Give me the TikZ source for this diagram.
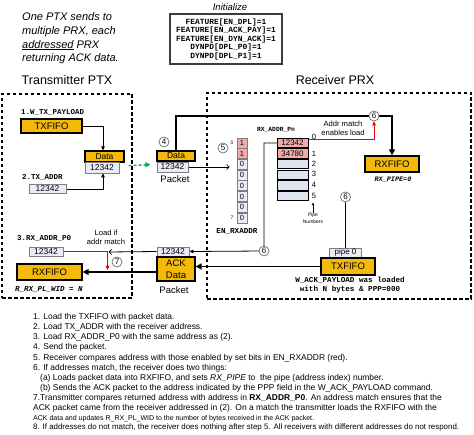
\documentclass[tikz,border=0pt]{standalone}
\usepackage{fontspec}
\setmainfont{Liberation Sans}
\setmonofont{Liberation Mono}
\usetikzlibrary{arrows.meta,calc}
\pgfdeclarelayer{bottom}
\pgfdeclarelayer{background}
\pgfsetlayers{bottom,background,main}
\definecolor{gold}{RGB}{245,185,10}
\definecolor{addrfill}{RGB}{232,236,244}
\definecolor{rowfill}{RGB}{222,228,240}
\definecolor{addrgray}{RGB}{125,125,125}
\definecolor{pinkfill}{RGB}{242,170,170}
\definecolor{circgray}{RGB}{110,110,110}
\definecolor{arrowgreen}{RGB}{0,176,80}
\definecolor{linered}{RGB}{232,0,0}
\definecolor{boxgray}{RGB}{60,60,60}
\newcommand\myfs[2]{\fontsize{#1}{#2}\selectfont}
\tikzset{
  fifo/.style={draw=black, line width=1.3pt, fill=gold, inner sep=0pt, font=\myfs{9.5}{11}},
  databox/.style={draw=black, line width=1.2pt, fill=gold, inner sep=0pt, font=\myfs{8.5}{10}},
  addrbox/.style={draw=addrgray, line width=0.6pt, fill=addrfill, inner sep=0pt, font=\myfs{8.5}{10}},
  encell/.style={draw=addrgray, line width=0.6pt, fill=addrfill, inner sep=0pt, minimum width=10, minimum height=10, font=\myfs{7.5}{8}},
  enset/.style={encell, fill=pinkfill},
  tabrow/.style={draw=black, line width=1pt, fill=rowfill, inner sep=0pt, minimum width=31, minimum height=9.4, font=\myfs{8}{9}},
  tabset/.style={tabrow, fill=pinkfill},
  circ/.style={circle, draw=circgray, fill=white, line width=0.7pt, minimum size=10, inner sep=0pt, font=\myfs{8}{8}},
  code/.style={inner sep=0pt, font=\ttfamily\bfseries\myfs{7.5}{9}},
  lbl/.style={inner sep=0pt, font=\myfs{7.6}{9}},
  listline/.style={inner sep=0pt, anchor=west, font=\myfs{8.45}{10}},
  heavyarrow/.style={line width=1.8pt, -{Triangle[length=6pt,width=6pt]}},
  lightarrow/.style={line width=0.8pt, -{Triangle[length=4pt,width=3.5pt]}},
  openarrow/.style={line width=0.8pt, -{Straight Barb[length=2.5pt,width=5pt]}},
  redarrow/.style={draw=linered, line width=1pt, -{Triangle[length=4pt,width=3.5pt]}},
  dashbox/.style={draw=black, dash pattern=on 3.5pt off 2.5pt, line width=1.3pt},
}
\begin{document}
\begin{tikzpicture}[x=1pt,y=-1pt]
\useasboundingbox (0,0) rectangle (474,435);
\begin{pgfonlayer}{bottom}
\fill[white] (0,0) rectangle (474,435);
\end{pgfonlayer}

% headings
\node[inner sep=0pt, anchor=west, align=left, font=\itshape\myfs{11}{13.6}] (intro) at (22,38.5)
  {One PTX sends to\\multiple PRX, each\\\underline{addressed} PRX\\returning ACK data.};
\node[inner sep=0pt, font=\itshape\myfs{9.5}{10}] (initlbl) at (230,7) {Initialize};
\node[draw=boxgray, line width=1.6pt, minimum width=112, minimum height=50, inner sep=0pt, align=center,
      font=\ttfamily\bfseries\myfs{7.9}{8.5}] (init) at (226,39)
  {FEATURE[EN\_DPL]=1\\FEATURE[EN\_ACK\_PAY]=1\\FEATURE[EN\_DYN\_ACK]=1\\DYNPD[DPL\_P0]=1\\DYNPD[DPL\_P1]=1};
\node[inner sep=0pt, font=\myfs{12.5}{14}] (txtitle) at (67,80) {Transmitter PTX};
\node[inner sep=0pt, font=\myfs{12.5}{14}] (rxtitle) at (335,80) {Receiver PRX};

% dashed regions
\node[dashbox, minimum width=130, minimum height=204, inner sep=0pt] (txregion) at (67,196) {};
\node[dashbox, minimum width=264, minimum height=206, inner sep=0pt] (rxregion) at (339,196) {};

% transmitter
\node[code, anchor=west] (wtxlbl) at (21,112) {1.W\_TX\_PAYLOAD};
\node[fifo, minimum width=61, minimum height=14] (txfifo) at (51.5,126) {TXFIFO};
\node[databox, minimum width=39, minimum height=11] (datatx) at (104.5,156.5) {Data};
\node[addrbox, minimum width=34, minimum height=11] (addrtx) at (102,167.5) {12342};
\node[code, anchor=west] (txaddrlbl) at (22,177) {2.TX\_ADDR};
\node[addrbox, minimum width=37, minimum height=8.5] (txaddr) at (47.5,189) {12342};

\node[code, anchor=west] (p0lbl) at (17,238) {3.RX\_ADDR\_P0};
\node[addrbox, minimum width=34, minimum height=8.5] (p0addr) at (46,252) {12342};
\node[lbl, align=center] (loadlbl) at (106,237.5) {Load if\\addr match};
\coordinate (lm) at (107.5,252);
\node[circ] (c7) at (117,262) {7};
\node[fifo, minimum width=65, minimum height=16] (rxfifol) at (49.5,272) {RXFIFO};
\node[code, font=\ttfamily\bfseries\itshape\myfs{7.5}{9}] (plwid) at (49,289) {R\_RX\_PL\_WID = N};

% packets between
\node[circ] (c4) at (164,142) {4};
\node[databox, minimum width=38, minimum height=10] (datarx) at (176,156) {Data};
\node[addrbox, minimum width=31, minimum height=10] (addrrx) at (172.5,167) {12342};
\node[inner sep=0pt, font=\myfs{9.5}{10}] (pkt1) at (175,179.5) {Packet};

\node[addrbox, minimum width=32, minimum height=9] (ackaddr) at (173,251.5) {12342};
\node[databox, align=center, minimum width=38, minimum height=24, font=\myfs{9.5}{11.5}] (ackdata) at (176,269) {ACK\\Data};
\node[inner sep=0pt, font=\myfs{9.5}{10}] (pkt2) at (174,290.5) {Packet};

% receiver: EN_RXADDR
\node[circ] (c5) at (223,148) {5};
\node[inner sep=0pt, font=\myfs{5}{5}] (en0lbl) at (232,143) {0};
\node[inner sep=0pt, font=\myfs{5}{5}] (en7lbl) at (232,218) {7};
\node[enset] (en0) at (242,143) {1};
\node[enset] (en1) at (242,153.7) {1};
\node[encell] (en2) at (242,164.4) {0};
\node[encell] (en3) at (242,175.1) {0};
\node[encell] (en4) at (242,185.8) {0};
\node[encell] (en5) at (242,196.5) {0};
\node[encell] (en6) at (242,207.2) {0};
\node[encell] (en7) at (242,217.9) {0};
\node[code, font=\ttfamily\bfseries\myfs{7.6}{9}] (enlbl) at (237,231) {EN\_RXADDR};

% receiver: RX_ADDR_Pn
\node[code, font=\ttfamily\bfseries\myfs{6.3}{8}] (rxaddrlbl) at (276,130) {RX\_ADDR\_Pn};
\node[tabset] (row0) at (292.5,143) {12342};
\node[tabset] (row1) at (292.5,153.6) {34780};
\node[tabrow] (row2) at (292.5,164.2) {};
\node[tabrow] (row3) at (292.5,174.8) {};
\node[tabrow] (row4) at (292.5,185.4) {};
\node[tabrow] (row5) at (292.5,196) {};
\node[lbl] (pn0) at (314,136.5) {0};
\node[lbl] (pn1) at (314,153.6) {1};
\node[lbl] (pn2) at (314,163.5) {2};
\node[lbl] (pn3) at (314,174.3) {3};
\node[lbl] (pn4) at (314,185) {4};
\node[lbl] (pn5) at (314,196) {5};
\node[inner sep=0pt, align=center, font=\myfs{5}{6.8}] (pipenums) at (313,218.5) {Pipe\\Numbers};

\node[lbl, align=center] (matchlbl) at (343,128.5) {Addr match\\enables load};
\node[circ] (c6a) at (374,116) {6};
\node[fifo, minimum width=54, minimum height=16] (rxfifor) at (392,164) {RXFIFO};
\node[code, font=\ttfamily\bfseries\itshape\myfs{6.8}{8}] (rxpipe) at (393,179.5) {RX\_PIPE=0};

\node[circ] (c6b) at (345.5,197) {6};
\node[circ] (c6c) at (264,251) {6};
\node[addrbox, minimum width=32, minimum height=9, font=\myfs{8}{9}] (pipe0) at (345.5,252.5) {pipe 0};
\node[fifo, minimum width=54, minimum height=17] (txfifor) at (348,266.5) {TXFIFO};
\node[code, align=center, font=\ttfamily\bfseries\myfs{7.6}{9}] (wacklbl) at (350,285.5)
  {W\_ACK\_PAYLOAD was loaded\\with N bytes \& PPP=000};

% numbered list
\node[listline] (l1) at (33,317) {1. Load the TXFIFO with packet data.};
\node[listline] (l2) at (33,327.3) {2. Load TX\_ADDR with the receiver address.};
\node[listline] (l3) at (33,337.5) {3. Load RX\_ADDR\_P0 with the same address as (2).};
\node[listline] (l4) at (33,347.7) {4. Send the packet.};
\node[listline] (l5) at (33,358) {5. Receiver compares address with those enabled by set bits in EN\_RXADDR (red).};
\node[listline] (l6) at (33,368.2) {6. If addresses match, the receiver does two things:};
\node[listline] (l6a) at (40,378.3) {(a) Loads packet data into RXFIFO, and sets \textit{RX\_PIPE} to\ \ the pipe (address index) number.};
\node[listline] (l6b) at (40,388.4) {(b) Sends the ACK packet to the address indicated by the PPP field in the W\_ACK\_PAYLOAD command.};
\node[listline] (l7) at (33,398.5) {7.Transmitter compares returned address with address in \textbf{RX\_ADDR\_P0}. An address match ensures that the};
\node[listline] (l7b) at (33,408.5) {ACK packet came from the receiver addressed in (2). On a match the transmitter loads the RXFIFO with the};
\node[listline, font=\myfs{7}{9}] (l7c) at (33,418.2) {ACK data and updates R\_RX\_PL\_WID to the number of bytes received in the ACK packet.};
\node[listline, font=\myfs{7.9}{9}] (l8) at (33,427.6) {8. If addresses do not match, the receiver does nothing after step 5. All receivers with different addresses do not respond.};

% connectors
\begin{pgfonlayer}{background}
\draw[lightarrow] (txfifo.east) -| ([xshift=-1.5pt]datatx.north);
\draw[lightarrow] (txaddr.east) -| ([xshift=1pt]addrtx.south);
\draw[arrowgreen, line width=1.4pt, dash pattern=on 3pt off 2pt, -{Triangle[length=5pt,width=5pt]}]
  ($(datatx.south east)+(4,3)$) -- ($(datarx.south west)+(-6,3)$);
\draw[heavyarrow] (datarx.north) |- (c6a) -| (rxfifor.north);
\draw[redarrow] ([yshift=3pt]row0.east) -| (c6a.south);
\draw[openarrow] (addrrx.east) -- ([xshift=-7pt]addrrx.east -| en0.west);
\draw[lightarrow] (row0.west) -| (c6c.center) -- (ackaddr.east);
\draw[line width=0.8pt] (c6b) -- (pipe0.north);
\draw[heavyarrow] (txfifor.west) -- (txfifor.west -| ackdata.east);
\draw[heavyarrow] (ackdata.west |- rxfifol.east) -- (rxfifol.east);
\draw[openarrow] (ackaddr.west) -- ([xshift=1pt]lm);
\draw[redarrow] (p0addr.east) -- (lm) -- ([yshift=2pt]lm |- rxfifol.east);
\draw[line width=0.5pt, -{Triangle[length=2.5pt,width=2.5pt]}] (pipenums.north) -- ([yshift=-1.5pt]pipenums.north |- row5.south);
\end{pgfonlayer}
\end{tikzpicture}
\end{document}
